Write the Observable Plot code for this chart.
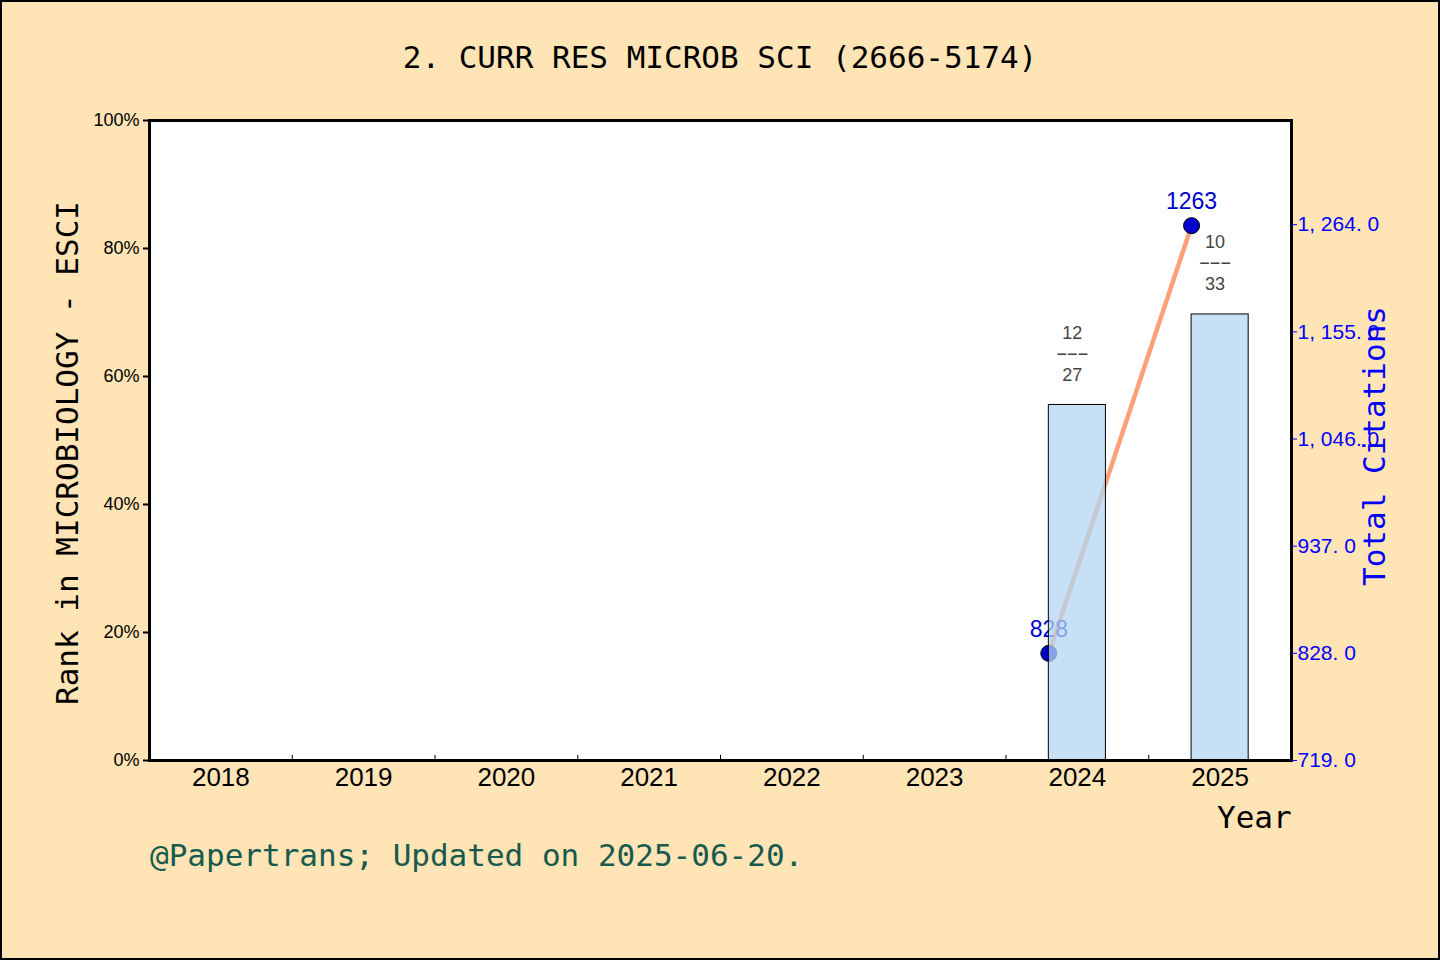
<!DOCTYPE html>
<html>
<head>
<meta charset="utf-8">
<script src="https://cdn.jsdelivr.net/npm/d3@7"></script>
<script src="https://cdn.jsdelivr.net/npm/@observablehq/plot@0.6"></script>
<style>
  html, body { margin: 0; padding: 0; background: #ffe4b5; }
  #fig { position: relative; width: 1440px; height: 960px; background: #ffe4b5; overflow: hidden; }
  #fig svg { position: absolute; left: 0; top: 0; }
  .txt { position: absolute; font-family: "DejaVu Sans Mono", monospace; white-space: nowrap; }
  #border { position: absolute; left: 0; top: 0; width: 1440px; height: 960px; box-sizing: border-box; border: 2px solid #000; pointer-events: none; }
</style>
</head>
<body>
<div id="fig"></div>
<script>
// ---- data ----
const years = [2018, 2019, 2020, 2021, 2022, 2023, 2024, 2025];
const rankYears = [2024, 2025];
const ranks = [12, 10];
const totals = [27, 33];
const citYears = [2024, 2025];
const citations = [828, 1263];
const citTicks = [719, 828, 937, 1046, 1155, 1264];
const citDomain = [719, 1370];
const pctTicks = [0, 0.2, 0.4, 0.6, 0.8, 1.0];
const title = "2. CURR RES MICROB SCI (2666-5174)";
const yLabel = "Rank in MICROBIOLOGY - ESCI";
const y2Label = "Total Citations";
const xLabel = "Year";
const footer = "@Papertrans; Updated on 2025-06-20.";

// ---- derived tables ----
const rankData = rankYears.map((y, i) => ({year: y, rank: ranks[i], total: totals[i], pct: 1 - ranks[i] / totals[i]}));
const cit2y = d3.scaleLinear().domain(citDomain).range([0, 1]);
const citData = citYears.map((y, i) => ({year: y, cit: citations[i], yv: cit2y(citations[i])}));
const boundaries = years.slice(0, -1).map(y => y + 0.5);
const halfBar = 0.2;
const fmtCit = v => d3.format(",.1f")(v).replace(",", ", ").replace(".", ". ");

const W = 1440, H = 960;
const mL = 149, mR = 149, mT = 120, mB = 200;
const band = (W - mL - mR) / years.length;
const off = -halfBar * band;

const chart = Plot.plot({
  width: W, height: H,
  marginLeft: mL, marginRight: mR, marginTop: mT, marginBottom: mB,
  style: {fontFamily: "Liberation Sans, Arial, sans-serif", background: "transparent", overflow: "visible"},
  x: {type: "linear", domain: [years[0] - 0.5, years[years.length - 1] + 0.5]},
  y: {domain: [0, 1]},
  marks: [
    Plot.frame({fill: "white", stroke: "none"}),
    Plot.line(citData, {x: "year", y: "yv", dx: off, stroke: "#ffa07a", strokeWidth: 4.5}),
    Plot.dot(citData, {x: "year", y: "yv", dx: off, r: 8, fill: "#0000cc", stroke: "#000", strokeWidth: 1}),
    Plot.text(citData, {x: "year", y: "yv", dx: off, dy: -24, text: d => String(d.cit), fill: "#0000cc", fontSize: 23}),
    Plot.rect(rankData, {x1: d => d.year - halfBar, x2: d => d.year + halfBar, y1: 0, y2: "pct", fill: "rgb(179,214,243)", fillOpacity: 0.75, stroke: "#000", strokeWidth: 1}),
    Plot.text(rankData, {x: "year", y: "pct", dx: -5, dy: -52, text: d => `${d.rank}\n−−−\n${d.total}`, lineAnchor: "middle", lineHeight: 1.17, fontSize: 18, fill: "#444"}),
    Plot.ruleX(boundaries, {y1: 0, y2: 0.008, stroke: "#000", strokeWidth: 1}),
    Plot.frame({stroke: "#000", strokeWidth: 3}),
    Plot.axisX(years, {tickSize: 0, tickPadding: 7, tickFormat: d => String(d), fontSize: 26, label: null, fill: "#000"}),
    Plot.axisY(pctTicks, {tickSize: 6, tickPadding: 4, tickFormat: d3.format(".0%"), fontSize: 18, label: null, strokeWidth: 2}),
    Plot.axisY(citTicks.map(c => cit2y(c)), {anchor: "right", tickSize: 5, tickPadding: 1, tickFormat: d => fmtCit(cit2y.invert(d)), fontSize: 21, fill: "#0000ff", stroke: "#0000ff", label: null})
  ]
});

const fig = document.getElementById("fig");
fig.appendChild(chart);

function addText(text, css) {
  const d = document.createElement("div");
  d.className = "txt";
  d.textContent = text;
  Object.assign(d.style, css);
  fig.appendChild(d);
  return d;
}
addText(title, {left: "0px", width: "1440px", textAlign: "center", top: "38px", fontSize: "31px", lineHeight: "38px", color: "#000"});
addText(yLabel, {left: "67px", top: "453px", fontSize: "31px", color: "#000", transform: "translate(-50%, -50%) rotate(-90deg)"});
addText(y2Label, {left: "1374px", top: "446px", fontSize: "31px", color: "#0000ff", transform: "translate(-50%, -50%) rotate(-90deg)"});
addText(xLabel, {left: "1217px", top: "798px", fontSize: "31px", lineHeight: "38px", color: "#000"});
addText(footer, {left: "150px", top: "836px", fontSize: "31px", lineHeight: "38px", color: "#17594d"});
const b = document.createElement("div"); b.id = "border"; fig.appendChild(b);
</script>
</body>
</html>
